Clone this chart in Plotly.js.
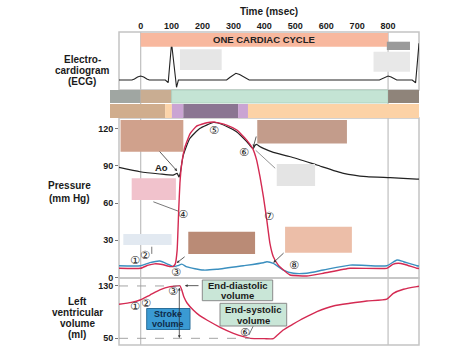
<!DOCTYPE html>
<html><head><meta charset="utf-8">
<script src="https://cdn.plot.ly/plotly-3.0.1.min.js"></script>
<style>html,body{margin:0;padding:0;background:#fff}#chart{width:474px;height:355px}</style>
</head><body><div id="chart"></div>
<script>
// ---------- data ----------
const timeTicks = [0,100,200,300,400,500,600,700,800];
const pressureTicks = [0,30,60,90,120];
const volumeTicks = [50,130];

// ECG (arbitrary units)
const tECG = [-70,-28,-20,-10,0,10,20,28,80,89,100,108,116,122,278,288,300,308,320,335,351,772,780,790,800,810,820,828,878,889,900];
const ecg  = [10,10,11,13,14,13,11,10,10,7.3,46.7,22,2.7,10,10,12.5,15.5,16.7,15.5,12.5,10,10,11,13,14,13,11,10,10,7.3,46.7];

// Left ventricular pressure (mm Hg)
const tLV = [-70,0,25,45,70,95,105,112,118,123,127,133,143,160,181,214,240,278,311,343,362,375,386,397,408,418,429,445,467,483,537,591,677,796,815,833,855,893,900];
const pLV = [7.4,7.4,10,11,10.5,8.8,9,11,22,54,76,92,105,116,122,124.7,125.2,122.8,118.8,110.7,104,94.6,81,65,46,27.5,16.7,10,5,2,1.2,3.4,7.4,7.4,10.5,11.5,10.5,7.4,7.2];

// Aortic pressure (mm Hg)
const tAo = [-70,-2,62,105,118,124,128,133,138,159,191,235,250,280,310,343,360,364,370,375,385,397,429,484,570,656,731,807,893,900];
const pAo = [88.7,85.2,83.4,82.5,83.9,81,84,92,98.6,112,120,124.9,124.5,121.5,117.4,109.4,104.5,104,106.5,107.3,105.5,104,100.8,97.3,90.6,83.9,81.2,80.4,79.3,79.2];

// Left atrial pressure (mm Hg)
const tLA = [-70,0,30,62,90,105,120,133,150,203,246,332,397,408,429,461,494,537,591,677,796,829,850,893,900];
const pLA = [9.5,9.5,12,13.3,10.5,8.8,9.5,10.8,8.5,6,6.6,9.5,11.9,12.7,11.4,6,3.4,3.4,6,10,9.5,14.1,12.7,9.5,9.3];

// Left ventricular volume (ml)
const tVol = [-70,-30,-2,30,62,95,115,127,133,140,150,170,190,214,257,300,332,354,400,429,440,461,490,516,545,570,623,677,731,796,817,850,893,900];
const vVol = [102,105,108.6,116.2,123.9,128.9,130,130.3,124,113,104,93.3,85,78,66.9,57.7,52.5,50,49.5,49.5,54,62.7,71,78,85,90.7,99.4,103.5,107,110,118.8,125,129,129.5];

// phase bars (time boundaries, ms)
const row1Edges = [0,100,800];
const row2Edges = [79,101,138,315,347];

// ---------- helpers ----------
const XR = [-70, 900];
const px = t => (t - XR[0]) / (XR[1] - XR[0]);
const ECGdom = [0.8147, 1], PRdom = [0.2141, 0.7252], VOdom = [0, 0.2141];
const R1 = [0.7732, 0.8147], R2 = [0.7252, 0.7700];
const FONT = 'Liberation Sans, Arial, sans-serif';
const RED = '#d42a52', BLUE = '#3b8fbf', BLK = '#222222';

const traces = [
  {x:tECG, y:ecg, xaxis:'x', yaxis:'y3', mode:'lines', line:{color:BLK, width:1.1}, hoverinfo:'skip'},
  {x:tAo, y:pAo, xaxis:'x', yaxis:'y', mode:'lines', line:{color:BLK, width:1.2, shape:'spline', smoothing:0.5}, hoverinfo:'skip'},
  {x:tLA, y:pLA, xaxis:'x', yaxis:'y', mode:'lines', line:{color:BLUE, width:1.4, shape:'spline', smoothing:0.6}, hoverinfo:'skip'},
  {x:tLV, y:pLV, xaxis:'x', yaxis:'y', mode:'lines', line:{color:RED, width:1.4, shape:'spline', smoothing:0.4}, hoverinfo:'skip'},
  {x:tVol, y:vVol, xaxis:'x', yaxis:'y2', mode:'lines', line:{color:RED, width:1.4, shape:'spline', smoothing:0.5}, hoverinfo:'skip'}
];

const GRID = '#c4c4c4';
const shapes = [];
const yp = py => (345 - py) / 313;
const xp = pxl => (pxl - 119) / 300;
function rectP(x0,x1,y0,y1,fill,line){shapes.push({type:'rect',xref:'paper',yref:'paper',x0,x1,y0,y1,fillcolor:fill,line:line||{width:0},layer:'above'});}
function box(ref,x0,x1,y0,y1,fill){shapes.push({type:'rect',xref:'x',yref:ref,x0,x1,y0,y1,fillcolor:fill,line:{width:0},layer:'above'});}
function seg(ref,x0,y0,x1,y1,color,w,dash){shapes.push({type:'line',xref:'x',yref:ref,x0,y0,x1,y1,line:{color:color||'#444',width:w||0.8,dash:dash||'solid'},layer:'above'});}

// panel frames
[ECGdom, PRdom, VOdom].forEach(d => shapes.push({type:'rect',xref:'paper',yref:'paper',x0:0,x1:1,y0:d[0],y1:d[1],line:{color:GRID,width:1.5},layer:'below'}));
// vertical reference lines at t=0 and t=800
[0,800].forEach(t => shapes.push({type:'line',xref:'x',yref:'paper',x0:t,x1:t,y0:0,y1:1,line:{color:GRID,width:1.3},layer:'below'}));

// phase bars row 1
rectP(-0.03, px(row1Edges[0]), R1[0], R1[1], '#a0a6a2');
rectP(px(row1Edges[0]), px(row1Edges[1]), R1[0], R1[1], '#c9ad92');
rectP(px(row1Edges[1]), px(row1Edges[2]), R1[0], R1[1], '#c4e4d4', {color:'#a8cdbb',width:0.8});
rectP(px(row1Edges[2]), 1, R1[0], R1[1], '#8f847a');
// phase bars row 2
rectP(-0.03, px(row2Edges[0]), R2[0], R2[1], '#d0ad8d');
rectP(px(row2Edges[0]), px(row2Edges[1]), R2[0], R2[1], '#fcd4aa');
rectP(px(row2Edges[1]), px(row2Edges[2]), R2[0], R2[1], '#caa4d3');
rectP(px(row2Edges[2]), px(row2Edges[3]), R2[0], R2[1], '#8b7592');
rectP(px(row2Edges[3]), px(row2Edges[4]), R2[0], R2[1], '#caa4d3');
rectP(px(row2Edges[4]), 1, R2[0], R2[1], '#fcd2a6');

// one cardiac cycle bar
box('y3', 0, 800, 43.3, 57, '#f8b89e');
// ECG placeholder boxes
box('y3', 127, 262, 20, 40.7, '#e6e6e6');
box('y3', 753, 871, 18.3, 38.3, '#e8e8e8');
box('y3', 796, 871, 40, 48.3, '#9a9a9a');

// pressure placeholder boxes
box('y', -65, 138, 101.3, 126.8, '#d0a18c');
box('y', -29, 114, 62.4, 79.9, '#f1c2cc');
box('y', -56, 100, 26.2, 35, '#e2e9f1');
box('y', 154, 370, 18.9, 36.9, '#ba8b76');
box('y', 377, 667, 108, 126.8, '#c39c8b');
box('y', 440, 564, 73.7, 91.4, '#e4e4e4');
box('y', 467, 683, 20, 40.9, '#ecbea8');

// leader lines (no heads)
seg('y', 41, 61, 121, 53.5, '#555', 0.8);
seg('y', 36, 24.8, 36, 19, '#555', 0.8);
seg('y', 435, 88, 372, 102.5, '#777', 0.8);

// volume dashed reference lines
seg('y2', -70, 130, 125, 130, '#9a9a9a', 0.9, 'dash');
seg('y2', -70, 50, 354, 50, '#9a9a9a', 0.9, 'dash');
seg('y2', 350, 55, 364, 68.8, '#555', 0.8);

// labelled boxes in volume panel (drawn as shapes, text as annotations)
rectP(xp(202.3), xp(272.7), yp(300.7), yp(280), '#c9e6d7', {color:'#8a8a8a', width:1});
rectP(xp(220), xp(286.7), yp(326), yp(303.3), '#c9e6d7', {color:'#8a8a8a', width:1});
rectP(xp(146.7), xp(190), yp(329.5), yp(308.5), '#3a9ad3', {color:'#2a6f9a', width:1});

const annotations = [];
function txt(text,x,y,size,color){annotations.push({text,x,y,xref:'paper',yref:'paper',showarrow:false,xanchor:'center',yanchor:'middle',font:{family:FONT,size:size||10,weight:700,color:color||'#1a1a1a'}});}

txt('Electro-', xp(82), yp(59));
txt('cardiogram', xp(82), yp(70.5));
txt('(ECG)', xp(82), yp(82));
txt('Pressure', xp(69), yp(186));
txt('(mm Hg)', xp(69), yp(198.5));
txt('Left', xp(77), yp(301));
txt('ventricular', xp(77), yp(312.5));
txt('volume', xp(77), yp(323.5));
txt('(ml)', xp(77), yp(334.5));

txt('End-diastolic', xp(237.5), yp(285.5), 9.5);
txt('volume', xp(237.5), yp(295.8), 9.5);
txt('End-systolic', xp(253.3), yp(309.6), 9.5);
txt('volume', xp(253.3), yp(320.3), 9.5);
txt('Stroke', xp(168.3), yp(313.5), 9, '#0d2a4a');
txt('volume', xp(168.3), yp(324.2), 9, '#0d2a4a');

annotations.push({text:'ONE CARDIAC CYCLE', x:400, y:50.2, xref:'x', yref:'y3', showarrow:false, font:{family:FONT,size:9.5,weight:700,color:'#222'}});
annotations.push({text:'Ao', x:66, y:88.5, xref:'x', yref:'y', showarrow:false, font:{family:FONT,size:9.5,weight:700,color:'#222'}});

// circled numbers
const circ = [['①',-18,13.5,'y'],['②',15.5,17.6,'y'],['③',114,4.4,'y'],['④',138,51,'y'],['⑤',238,118.8,'y'],['⑥',334,100.8,'y'],['⑦',416,49,'y'],['⑧',496,9.3,'y'],
              ['①',-18,98.3,'y2'],['②',16,102.5,'y2'],['③',104,121.3,'y2'],['⑥',338,59.2,'y2']];
circ.forEach(c => annotations.push({text:c[0], x:c[1], y:c[2], xref:'x', yref:c[3], showarrow:false, font:{family:'DejaVu Sans',size:11,color:'#222'}}));

// arrows
function arrow(ref,x,y,ax,ay){annotations.push({text:'',x,y,ax,ay,xref:'x',yref:ref,axref:'x',ayref:ref,showarrow:true,arrowhead:2,arrowsize:0.7,arrowwidth:0.8,arrowcolor:'#333'});}
arrow('y', 118, 85.7, 57, 102.7);
arrow('y', 116.5, 11.7, 147, 17.6);
arrow('y', 364, 104.9, 375, 114.8);
arrow('y', 429, 11.9, 467, 20.8);
arrow('y2', 143, 130.5, 192, 130.5);
// stroke volume double arrow
annotations.push({text:'',x:125,y:50.5,ax:125,ay:129.5,xref:'x',yref:'y2',axref:'x',ayref:'y2',showarrow:true,arrowhead:2,startarrowhead:2,arrowside:'end+start',arrowsize:0.7,arrowwidth:0.8,arrowcolor:'#333'});

const axisFont = {family:FONT, size:9, weight:700, color:'#1a1a1a'};
const layout = {
  width:474, height:355, margin:{l:119, r:55, t:32, b:10},
  paper_bgcolor:'#ffffff', plot_bgcolor:'rgba(0,0,0,0)', showlegend:false,
  font:{family:FONT, color:'#1a1a1a'},
  xaxis:{range:XR, anchor:'y3', side:'top', tickvals:timeTicks, ticks:'', showgrid:false, zeroline:false, showline:false, tickfont:axisFont,
         title:{text:'Time (msec)', font:{family:FONT,size:10,weight:700,color:'#1a1a1a'}, standoff:3}},
  yaxis:{domain:PRdom, anchor:'x', range:[-0.4,128.5], tickvals:pressureTicks, ticks:'outside', ticklen:3, tickcolor:'#777', tickwidth:1, showgrid:false, zeroline:false, showline:false, tickfont:axisFont},
  yaxis2:{domain:VOdom, anchor:'x', range:[39.8,142.2], tickvals:volumeTicks, ticks:'outside', ticklen:3, tickcolor:'#777', tickwidth:1, showgrid:false, zeroline:false, showline:false, tickfont:axisFont},
  yaxis3:{domain:ECGdom, anchor:'x', range:[0,58], visible:false},
  shapes, annotations
};
Plotly.newPlot('chart', traces, layout, {staticPlot:true, displayModeBar:false});
</script></body></html>
